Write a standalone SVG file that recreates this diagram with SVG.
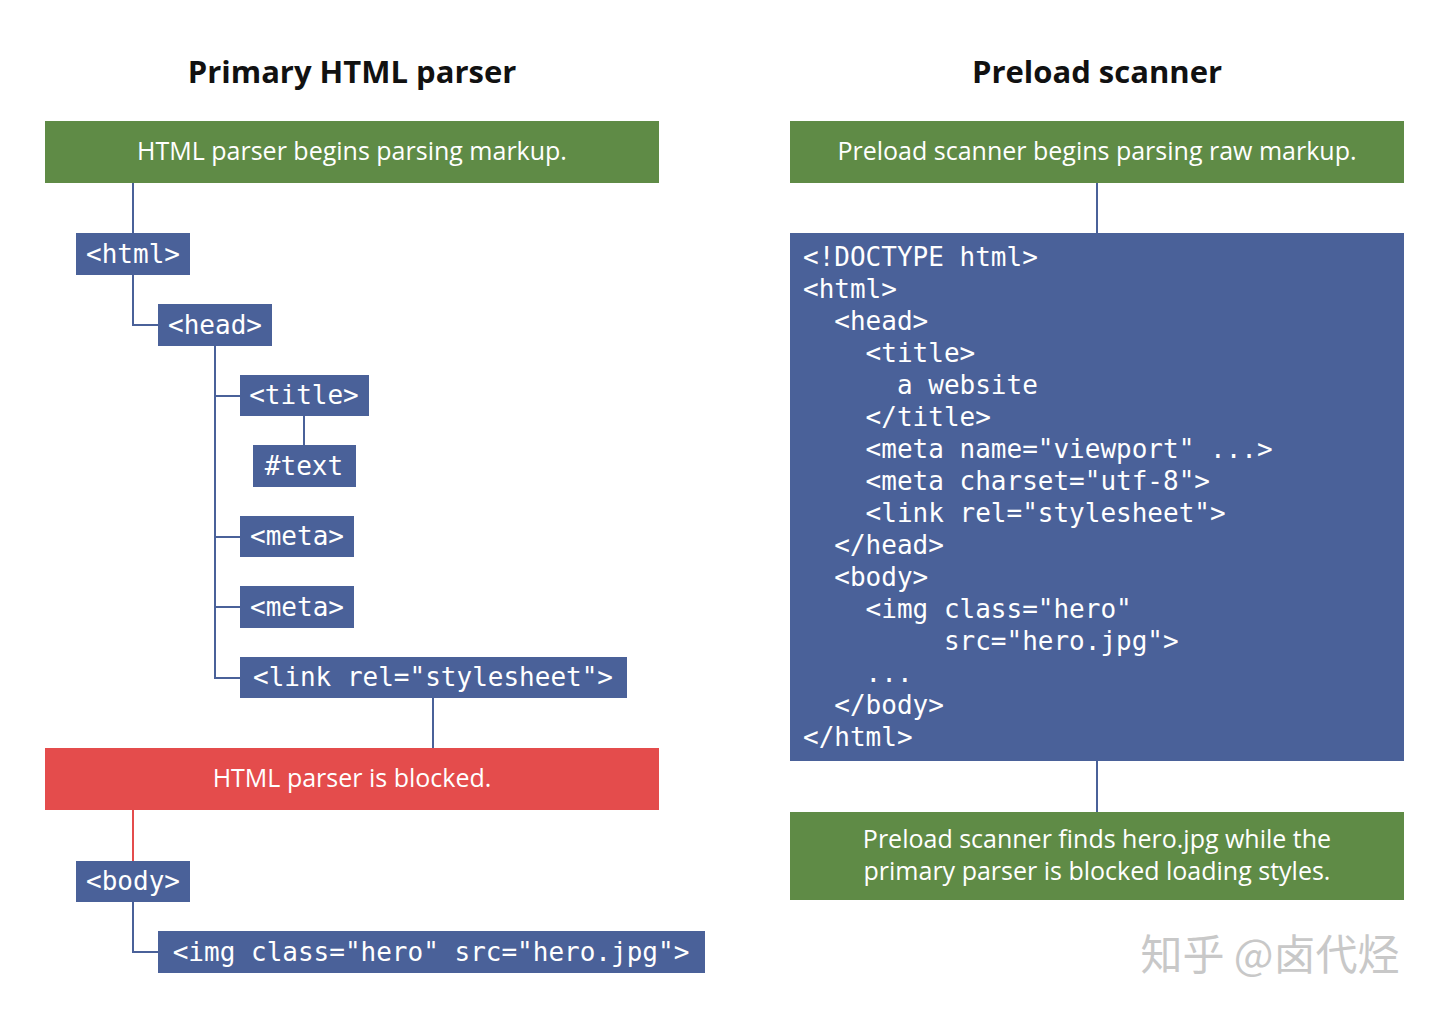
<svg xmlns="http://www.w3.org/2000/svg" width="1440" height="1013" viewBox="0 0 1440 1013">
<style>
.t{font-family:"Open Sans","Liberation Sans",sans-serif;font-weight:bold;font-size:31px;fill:#111;text-anchor:middle}
.g{fill:#5f8b46}.b{fill:#4a6199}.r{fill:#e44c4c}
.l{font-family:"Open Sans","Liberation Sans",sans-serif;font-size:25px;fill:#fff;text-anchor:middle}
.m{font-family:"DejaVu Sans Mono",monospace;font-size:26px;fill:#fff}
.mc{font-family:"DejaVu Sans Mono",monospace;font-size:26px;fill:#fff;text-anchor:middle}
.c{fill:none;stroke:#4a6199;stroke-width:2}
.cr{fill:none;stroke:#e44c4c;stroke-width:2}
</style>
<rect width="1440" height="1013" fill="#fff"/>
<text class="t" x="352" y="83">Primary HTML parser</text>
<text class="t" x="1097" y="83">Preload scanner</text>
<g id="connectors">
<path class="c" d="M133 183V233M133 275V325H158M215 346V678H240M215 396H240M215 537H240M215 607H240M304 416V445M433 698V748M133 902V952H158M1097 183V233M1097 761V812"/>
<path class="cr" d="M133 810V861"/>
</g>
<g id="n-start"><rect class="g" x="45" y="121" width="614" height="62"/><text class="l" x="352" y="160">HTML parser begins parsing markup.</text></g>
<g id="n-html"><rect class="b" x="76" y="233" width="114" height="42"/><text class="mc" x="133" y="263">&lt;html&gt;</text></g>
<g id="n-head"><rect class="b" x="158" y="304" width="114" height="42"/><text class="mc" x="215" y="334">&lt;head&gt;</text></g>
<g id="n-title"><rect class="b" x="240" y="375" width="129" height="41"/><text class="mc" x="304" y="404">&lt;title&gt;</text></g>
<g id="n-text"><rect class="b" x="253" y="445" width="103" height="42"/><text class="mc" x="304" y="475">#text</text></g>
<g id="n-meta1"><rect class="b" x="240" y="516" width="114" height="41"/><text class="mc" x="297" y="545">&lt;meta&gt;</text></g>
<g id="n-meta2"><rect class="b" x="240" y="586" width="114" height="42"/><text class="mc" x="297" y="616">&lt;meta&gt;</text></g>
<g id="n-link"><rect class="b" x="240" y="657" width="387" height="41"/><text class="mc" x="433" y="686">&lt;link rel="stylesheet"&gt;</text></g>
<g id="n-blocked"><rect class="r" x="45" y="748" width="614" height="62"/><text class="l" x="352" y="787">HTML parser is blocked.</text></g>
<g id="n-body"><rect class="b" x="76" y="861" width="114" height="41"/><text class="mc" x="133" y="890">&lt;body&gt;</text></g>
<g id="n-img"><rect class="b" x="158" y="931" width="547" height="42"/><text class="mc" x="431" y="961">&lt;img class="hero" src="hero.jpg"&gt;</text></g>
<g id="n-pstart"><rect class="g" x="790" y="121" width="614" height="62"/><text class="l" x="1097" y="160">Preload scanner begins parsing raw markup.</text></g>
<g id="n-code"><rect class="b" x="790" y="233" width="614" height="528"/>
<text class="m" xml:space="preserve"><tspan x="803" y="266">&lt;!DOCTYPE html&gt;</tspan><tspan x="803" y="298">&lt;html&gt;</tspan><tspan x="803" y="330">  &lt;head&gt;</tspan><tspan x="803" y="362">    &lt;title&gt;</tspan><tspan x="803" y="394">      a website</tspan><tspan x="803" y="426">    &lt;/title&gt;</tspan><tspan x="803" y="458">    &lt;meta name="viewport" ...&gt;</tspan><tspan x="803" y="490">    &lt;meta charset="utf-8"&gt;</tspan><tspan x="803" y="522">    &lt;link rel="stylesheet"&gt;</tspan><tspan x="803" y="554">  &lt;/head&gt;</tspan><tspan x="803" y="586">  &lt;body&gt;</tspan><tspan x="803" y="618">    &lt;img class="hero"</tspan><tspan x="803" y="650">         src="hero.jpg"&gt;</tspan><tspan x="803" y="682">    ...</tspan><tspan x="803" y="714">  &lt;/body&gt;</tspan><tspan x="803" y="746">&lt;/html&gt;</tspan></text></g>
<g id="n-found"><rect class="g" x="790" y="812" width="614" height="88"/><text class="l" x="1097" y="848">Preload scanner finds hero.jpg while the</text><text class="l" x="1097" y="880">primary parser is blocked loading styles.</text></g>
<text x="1270" y="970" font-family="'Noto Sans CJK SC',sans-serif" font-size="42" fill="#c8c8c8" text-anchor="middle">知乎 @卤代烃</text>
</svg>
